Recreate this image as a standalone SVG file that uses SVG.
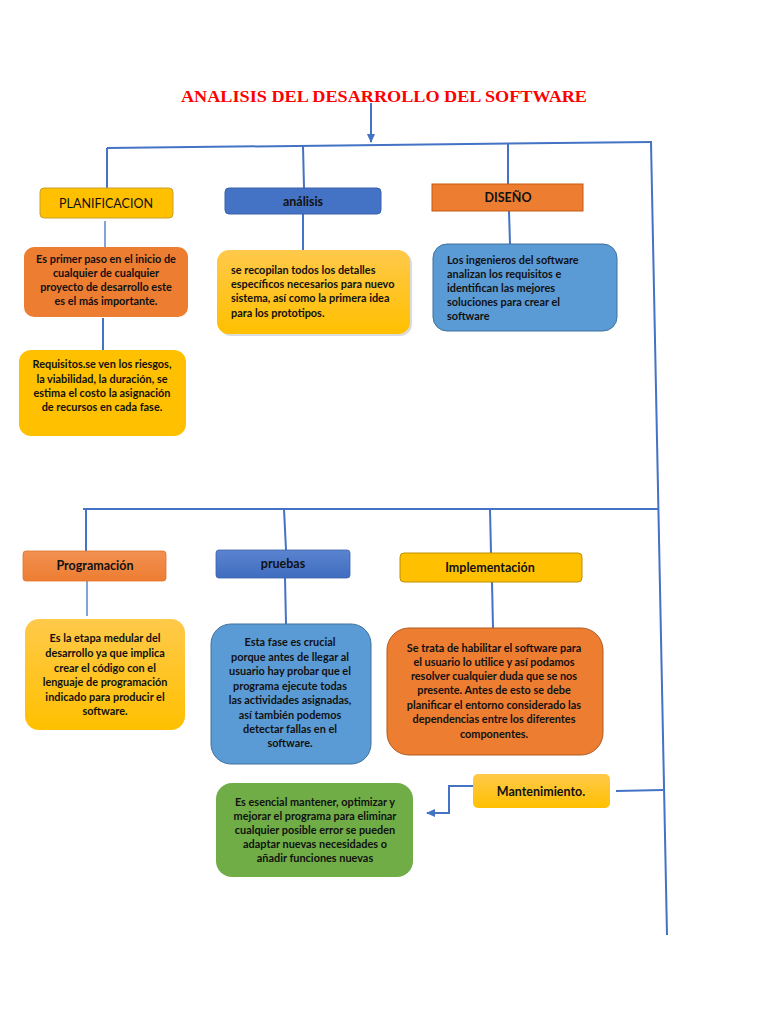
<svg xmlns="http://www.w3.org/2000/svg" width="768" height="1024" viewBox="0 0 768 1024">
<defs>
<marker id="arr" markerWidth="10" markerHeight="10" refX="8" refY="5" orient="auto" markerUnits="userSpaceOnUse">
<path d="M0,1 L9,5 L0,9 Z" fill="#4472C4"/>
</marker>
<linearGradient id="gY" x1="0" y1="0" x2="0" y2="1"><stop offset="0" stop-color="#FFC94A"/><stop offset="1" stop-color="#FFC000"/></linearGradient>
<linearGradient id="gO" x1="0" y1="0" x2="0" y2="1"><stop offset="0" stop-color="#F29052"/><stop offset="1" stop-color="#ED7D31"/></linearGradient>
<linearGradient id="gB" x1="0" y1="0" x2="0" y2="1"><stop offset="0" stop-color="#5B84CF"/><stop offset="1" stop-color="#3F6DC0"/></linearGradient>
</defs>
<style>
.c{stroke:#4472C4;stroke-width:2;fill:none}
.t{font-family:Lato,"Open Sans","Liberation Sans",sans-serif;font-weight:bold;font-size:10.9px;fill:#111}
.h{font-family:Lato,"Open Sans","Liberation Sans",sans-serif;font-size:12.5px;fill:#111;text-anchor:middle}
.m{text-anchor:middle}
</style>
<rect width="768" height="1024" fill="#fff"/>
<text x="384" y="102" font-family="'Liberation Serif',serif" font-weight="bold" font-size="17" fill="#FF0000" text-anchor="middle" textLength="406" lengthAdjust="spacingAndGlyphs">ANALISIS DEL DESARROLLO DEL SOFTWARE</text>

<g id="connectors">
<path class="c" d="M371,103 V142" marker-end="url(#arr)"/>
<path class="c" d="M107,148 L652,142"/>
<path class="c" d="M651,142 L667,935"/>
<path class="c" d="M107,148 V188"/>
<path class="c" d="M303,146 L304,188"/>
<path class="c" d="M508,144 V184"/>
<path class="c" d="M105,221 V247" style="stroke-width:1.3"/>
<path class="c" d="M103,318 V350"/>
<path class="c" d="M303,214 V250"/>
<path class="c" d="M509,211 L510,244"/>
<path class="c" d="M83,509 H659"/>
<path class="c" d="M86,509 V551"/>
<path class="c" d="M284,509 L286,550"/>
<path class="c" d="M490,509 L491,553"/>
<path class="c" d="M87,581 V616" style="stroke-width:1.3"/>
<path class="c" d="M285,578 L286,624"/>
<path class="c" d="M492,582 L493,628"/>
<path class="c" d="M663,790 L616,791"/>
<path class="c" d="M473,786 H449 V813 H427" marker-end="url(#arr)"/>
</g>

<g id="planificacion">
<rect x="40" y="188" width="133" height="30" rx="4" fill="#FFC000" stroke="#C9A227"/>
<text class="h" x="106" y="207.5" font-size="12">PLANIFICACION</text>
</g>
<g id="analisis">
<rect x="225" y="188" width="156" height="26" rx="4" fill="#4472C4" stroke="#3A63AD"/>
<text class="h" x="303" y="206" font-weight="bold">análisis</text>
</g>
<g id="diseno">
<rect x="432" y="184" width="151" height="27" fill="#ED7D31" stroke="#C55A11"/>
<text class="h" x="508" y="202" font-weight="bold">DISEÑO</text>
</g>

<g id="plan-desc1">
<rect x="24" y="247" width="164" height="70" rx="10" fill="#ED7D31"/>
<text class="t m" x="106"><tspan x="106" y="263">Es primer paso en el inicio de</tspan><tspan x="106" y="277">cualquier de cualquier</tspan><tspan x="106" y="291">proyecto de desarrollo este</tspan><tspan x="106" y="305">es el más importante.</tspan></text>
</g>
<g id="plan-desc2">
<rect x="19" y="350" width="167" height="86" rx="12" fill="#FFC000"/>
<text class="t m"><tspan x="102" y="368">Requisitos.se ven los riesgos,</tspan><tspan x="102" y="383">la viabilidad, la duración, se</tspan><tspan x="102" y="397">estima el costo la asignación</tspan><tspan x="102" y="411">de recursos en cada fase.</tspan></text>
</g>
<g id="analisis-desc">
<rect x="219" y="252" width="193" height="84" rx="12" fill="#999" opacity="0.35"/>
<rect x="217" y="250" width="193" height="84" rx="12" fill="url(#gY)"/>
<text class="t"><tspan x="231" y="274">se recopilan todos los detalles</tspan><tspan x="231" y="288">específicos necesarios para nuevo</tspan><tspan x="231" y="302">sistema, así como la primera idea</tspan><tspan x="231" y="317">para los prototipos.</tspan></text>
</g>
<g id="diseno-desc">
<rect x="433" y="244" width="184" height="87" rx="14" fill="#5B9BD5" stroke="#41719C"/>
<text class="t"><tspan x="447" y="264">Los ingenieros del software</tspan><tspan x="447" y="278">analizan los requisitos e</tspan><tspan x="447" y="292">identifican las mejores</tspan><tspan x="447" y="306">soluciones para crear el</tspan><tspan x="447" y="320">software</tspan></text>
</g>

<g id="programacion">
<rect x="23" y="551" width="143" height="30" rx="3" fill="url(#gO)" stroke="#E0742A" stroke-width="0.8"/>
<text class="h" x="95" y="570" font-weight="bold">Programación</text>
</g>
<g id="pruebas">
<rect x="216" y="550" width="134" height="28" rx="3" fill="url(#gB)" stroke="#3A63AD" stroke-width="0.8"/>
<text class="h" x="283" y="568" font-weight="bold">pruebas</text>
</g>
<g id="implementacion">
<rect x="400" y="553" width="182" height="29" rx="4" fill="#FFC000" stroke="#BF9000"/>
<text class="h" x="490" y="572" font-weight="bold">Implementación</text>
</g>

<g id="prog-desc">
<rect x="25" y="619" width="160" height="111" rx="14" fill="url(#gY)"/>
<text class="t m"><tspan x="105" y="642">Es la etapa medular del</tspan><tspan x="105" y="657">desarrollo ya que implica</tspan><tspan x="105" y="672">crear el código con el</tspan><tspan x="105" y="686">lenguaje de programación</tspan><tspan x="105" y="701">indicado para producir el</tspan><tspan x="105" y="715">software.</tspan></text>
</g>
<g id="pruebas-desc">
<rect x="211" y="624" width="160" height="140" rx="20" fill="#5B9BD5" stroke="#41719C"/>
<text class="t m"><tspan x="290" y="646">Esta fase es crucial</tspan><tspan x="290" y="661">porque antes de llegar al</tspan><tspan x="290" y="675">usuario hay probar que el</tspan><tspan x="290" y="690">programa ejecute todas</tspan><tspan x="290" y="704">las actividades asignadas,</tspan><tspan x="290" y="719">así también podemos</tspan><tspan x="290" y="733">detectar fallas en el</tspan><tspan x="290" y="747">software.</tspan></text>
</g>
<g id="impl-desc">
<rect x="387" y="628" width="216" height="127" rx="22" fill="#ED7D31" stroke="#AE5A21"/>
<text class="t m"><tspan x="494" y="652">Se trata de habilitar el software para</tspan><tspan x="494" y="666">el usuario lo utilice y así podamos</tspan><tspan x="494" y="680">resolver cualquier duda que se nos</tspan><tspan x="494" y="694">presente. Antes de esto se debe</tspan><tspan x="494" y="709">planificar el entorno considerado las</tspan><tspan x="494" y="723">dependencias entre los diferentes</tspan><tspan x="494" y="738">componentes.</tspan></text>
</g>

<g id="mantenimiento">
<rect x="473" y="774" width="137" height="34" rx="5" fill="url(#gY)"/>
<text class="h" x="541" y="796" font-weight="bold" font-size="13">Mantenimiento.</text>
</g>
<g id="mant-desc">
<rect x="216" y="783" width="197" height="94" rx="16" fill="#70AD47"/>
<text class="t m"><tspan x="315" y="806">Es esencial mantener, optimizar y</tspan><tspan x="315" y="820">mejorar el programa para eliminar</tspan><tspan x="315" y="834">cualquier posible error se pueden</tspan><tspan x="315" y="848">adaptar nuevas necesidades o</tspan><tspan x="315" y="862">añadir funciones nuevas</tspan></text>
</g>
</svg>
